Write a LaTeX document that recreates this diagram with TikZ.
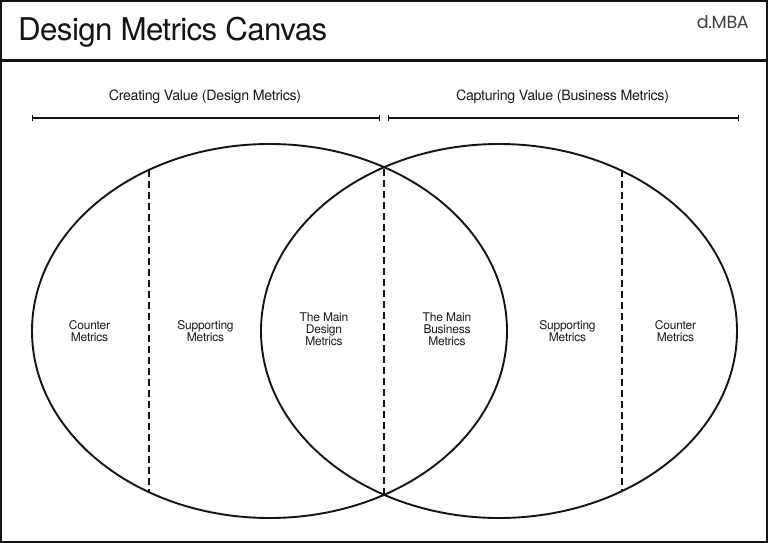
\documentclass[tikz,border=0pt]{standalone}
\usepackage{fontspec}
\setmainfont{TeX Gyre Heros}[LetterSpace=-2]
\newfontfamily\logofont{Poppins}[LetterSpace=-2]
\usetikzlibrary{shapes.geometric}
\tikzset{
  frameline/.style={line width=2.2pt,black!92},
  venn/.style={draw=black!92,line width=1.9pt,ellipse,inner sep=0pt,outer sep=0pt,minimum width=#1,minimum height=374pt},
  divider/.style={line width=1.9pt,black!92,dash pattern=on 7pt off 4pt},
  brace/.style={line width=1.7pt,black!92},
  tick/.style={line width=1pt,black!92},
  lab/.style={font=\fontsize{12}{12}\selectfont,align=center,inner sep=0pt,text=black!90},
  head/.style={font=\fontsize{14.2}{15}\selectfont,inner sep=0pt,text=black!90},
}
\begin{document}
\begin{tikzpicture}[x=1pt,y=-1pt]
\useasboundingbox (0,0) rectangle (768,543);
\fill[white] (0,0) rectangle (768,543);
\draw[frameline] (1,1) rectangle (767,542);
\coordinate (hl) at (0,60.5); \coordinate (hr) at (768,60.5);
\draw[frameline] (hl) -- (hr);
\node[anchor=west,inner sep=0pt,font=\fontsize{31.3}{34}\selectfont,text=black!92] (title) at (18,32) {Design Metrics Canvas};
\node[anchor=east,inner sep=0pt,font=\fontsize{17.6}{18}\selectfont\logofont,text=black!75] (logo) at (749,22.5) {d.MBA};
\node[head] (cv) at (205,96.5) {Creating Value (Design Metrics)};
\node[head] (bv) at (562.5,96.5) {Capturing Value (Business Metrics)};
\coordinate (a1) at (32.5,118.3); \coordinate (a2) at (379.5,118.3);
\coordinate (b1) at (388.5,118.3); \coordinate (b2) at (738,118.3);
\draw[brace] (a1) -- (a2);
\draw[brace] (b1) -- (b2);
\foreach \p in {a1,a2,b1,b2} \draw[tick] ([yshift=-3pt]\p) -- ([yshift=3pt]\p);
\node[venn=475pt] (L) at (269.5,331) {};
\node[venn=476pt] (R) at (499,331) {};
\coordinate (d1t) at (149,170); \coordinate (d1b) at (149,491);
\coordinate (d2t) at (384,169); \coordinate (d2b) at (384,494);
\coordinate (d3t) at (622,170); \coordinate (d3b) at (622,491);
\draw[divider] (d1t) -- (d1b);
\draw[divider] (d2t) -- (d2b);
\draw[divider] (d3t) -- (d3b);
\node[lab] (c1) at (89.5,331) {Counter\\Metrics};
\node[lab] (s1) at (205.5,331) {Supporting\\Metrics};
\node[lab] (m1) at (324,329) {The Main\\Design\\Metrics};
\node[lab] (m2) at (447,329) {The Main\\Business\\Metrics};
\node[lab] (s2) at (567.5,331) {Supporting\\Metrics};
\node[lab] (c2) at (675.5,331) {Counter\\Metrics};
\end{tikzpicture}
\end{document}
